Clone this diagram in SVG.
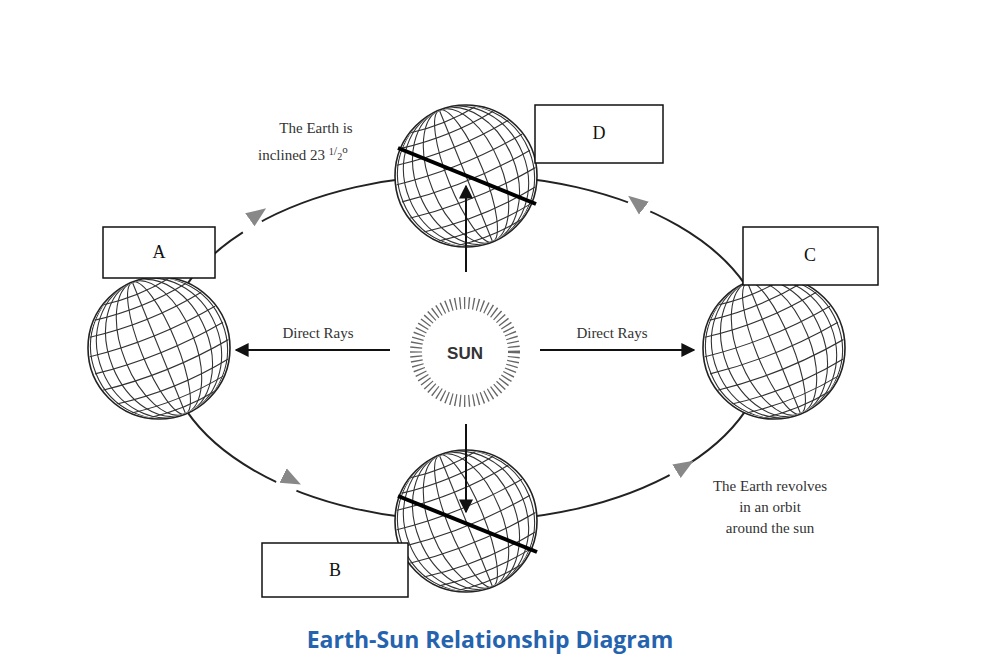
<svg xmlns="http://www.w3.org/2000/svg" width="981" height="659" viewBox="0 0 981 659">
<style>
.t{font-family:"Liberation Serif",serif;font-size:15px;fill:#333}
.box{fill:#fff;stroke:#111;stroke-width:1.5}
.lb{font-family:"Liberation Serif",serif;font-size:18px;fill:#111;text-anchor:middle}
.orb{fill:none;stroke:#222;stroke-width:2}
.g{fill:none;stroke:#333;stroke-width:1.1}
.ar{stroke:#111;stroke-width:2;fill:none}
</style>
<defs>
<clipPath id="cp"><circle cx="0" cy="0" r="70"/></clipPath>
<marker id="ah" viewBox="0 0 10 10" refX="9" refY="5" markerWidth="8" markerHeight="8" markerUnits="userSpaceOnUse" orient="auto"><path d="M0,0L10,5L0,10z" fill="#111"/></marker>
<marker id="bh" viewBox="0 0 10 10" refX="9" refY="5" markerWidth="14" markerHeight="14" markerUnits="userSpaceOnUse" orient="auto"><path d="M0,0L10,5L0,10z" fill="#111"/></marker>
<marker id="gh" viewBox="0 0 10 10" refX="5" refY="5" markerWidth="20" markerHeight="20" markerUnits="userSpaceOnUse" orient="auto"><path d="M0,1L10,5L0,9z" fill="#888"/></marker>
<g id="globe">
<circle r="71" fill="#fff"/>
<g clip-path="url(#cp)" transform="rotate(-22)">
<g class="g">
<ellipse rx="18" ry="71"/><ellipse rx="36" ry="71"/><ellipse rx="50" ry="71"/><ellipse rx="61" ry="71"/><ellipse rx="68" ry="71"/><line x1="0" y1="-71" x2="0" y2="71"/>
<path d="M-69,-18Q0,-8 69,-18M-61,-36Q0,-26 61,-36M-50,-50Q0,-42 50,-50M-36,-61Q0,-55 36,-61M-69,0Q0,10 69,0M-69,18Q0,28 69,18M-61,36Q0,46 61,36M-50,50Q0,58 50,50M-36,61Q0,67 36,61"/>
</g>
</g>
<circle r="71" fill="none" stroke="#222" stroke-width="1.6"/>
</g>
</defs>
<rect width="981" height="659" fill="#fff"/>
<g id="connectors">
<ellipse class="orb" cx="466" cy="348" rx="300" ry="173"/>
<rect x="238" y="210" width="22" height="22" fill="#fff" transform="rotate(-30 249 221)"/>
<rect x="628" y="195" width="24" height="20" fill="#fff" transform="rotate(25 640 205)"/>
<rect x="278" y="468" width="22" height="22" fill="#fff" transform="rotate(20 289 479)"/>
<rect x="668" y="458" width="24" height="22" fill="#fff" transform="rotate(-30 680 469)"/>
<path d="M244,224 L258,214" stroke="none" marker-end="url(#gh)"/>
<path d="M645,209 L636,202" stroke="none" marker-end="url(#gh)"/>
<path d="M280,474 L292,480" stroke="none" marker-end="url(#gh)"/>
<path d="M672,474 L685,466" stroke="none" marker-end="url(#gh)"/>
</g>
<g id="globeD"><use href="#globe" x="466" y="176"/><line x1="398" y1="148" x2="536" y2="204" stroke="#000" stroke-width="4"/></g>
<g id="globeA"><use href="#globe" x="159" y="348"/></g>
<g id="globeC"><use href="#globe" x="774" y="348"/></g>
<g id="globeB"><use href="#globe" x="466" y="521"/><line x1="398" y1="496" x2="537" y2="552" stroke="#000" stroke-width="4"/></g>
<g id="sun">
<circle cx="465" cy="352" r="49" fill="none" stroke="#666" stroke-width="12" stroke-dasharray="1.3 3.2"/>
<circle cx="465" cy="352" r="42" fill="#fff"/>
<text x="465" y="359" text-anchor="middle" font-family="Liberation Sans,sans-serif" font-weight="bold" font-size="17" fill="#333">SUN</text>
</g>
<g id="arrows">
<line class="ar" x1="466" y1="272" x2="466" y2="186" marker-end="url(#bh)"/>
<line class="ar" x1="466" y1="424" x2="466" y2="512" marker-end="url(#bh)"/>
<line class="ar" x1="390" y1="350" x2="236" y2="350" marker-end="url(#bh)"/>
<line class="ar" x1="540" y1="350" x2="694" y2="350" marker-end="url(#bh)"/>
</g>
<g id="labels">
<g id="boxA"><rect class="box" x="103" y="227" width="112" height="51"/><text class="lb" x="159" y="258">A</text></g>
<g id="boxD"><rect class="box" x="535" y="105" width="128" height="58"/><text class="lb" x="599" y="139">D</text></g>
<g id="boxC"><rect class="box" x="743" y="227" width="135" height="58"/><text class="lb" x="810" y="261">C</text></g>
<g id="boxB"><rect class="box" x="262" y="543" width="146" height="54"/><text class="lb" x="335" y="576">B</text></g>
</g>
<text class="t" x="316" y="133" text-anchor="middle">The Earth is</text>
<text class="t" x="258" y="160">inclined 23 <tspan font-size="10" dy="-5">1</tspan><tspan font-size="12" dy="0">/</tspan><tspan font-size="10" dy="5">2</tspan><tspan font-size="11" dy="-7">o</tspan></text>
<text class="t" x="318" y="338" text-anchor="middle">Direct Rays</text>
<text class="t" x="612" y="338" text-anchor="middle">Direct Rays</text>
<text class="t" x="770" y="491" text-anchor="middle">The Earth revolves</text>
<text class="t" x="770" y="512" text-anchor="middle">in an orbit</text>
<text class="t" x="770" y="533" text-anchor="middle">around the sun</text>
<text x="490" y="648" text-anchor="middle" font-family="Open Sans,Liberation Sans,sans-serif" font-weight="bold" font-size="23" fill="#2563ae">Earth-Sun Relationship Diagram</text>
</svg>
